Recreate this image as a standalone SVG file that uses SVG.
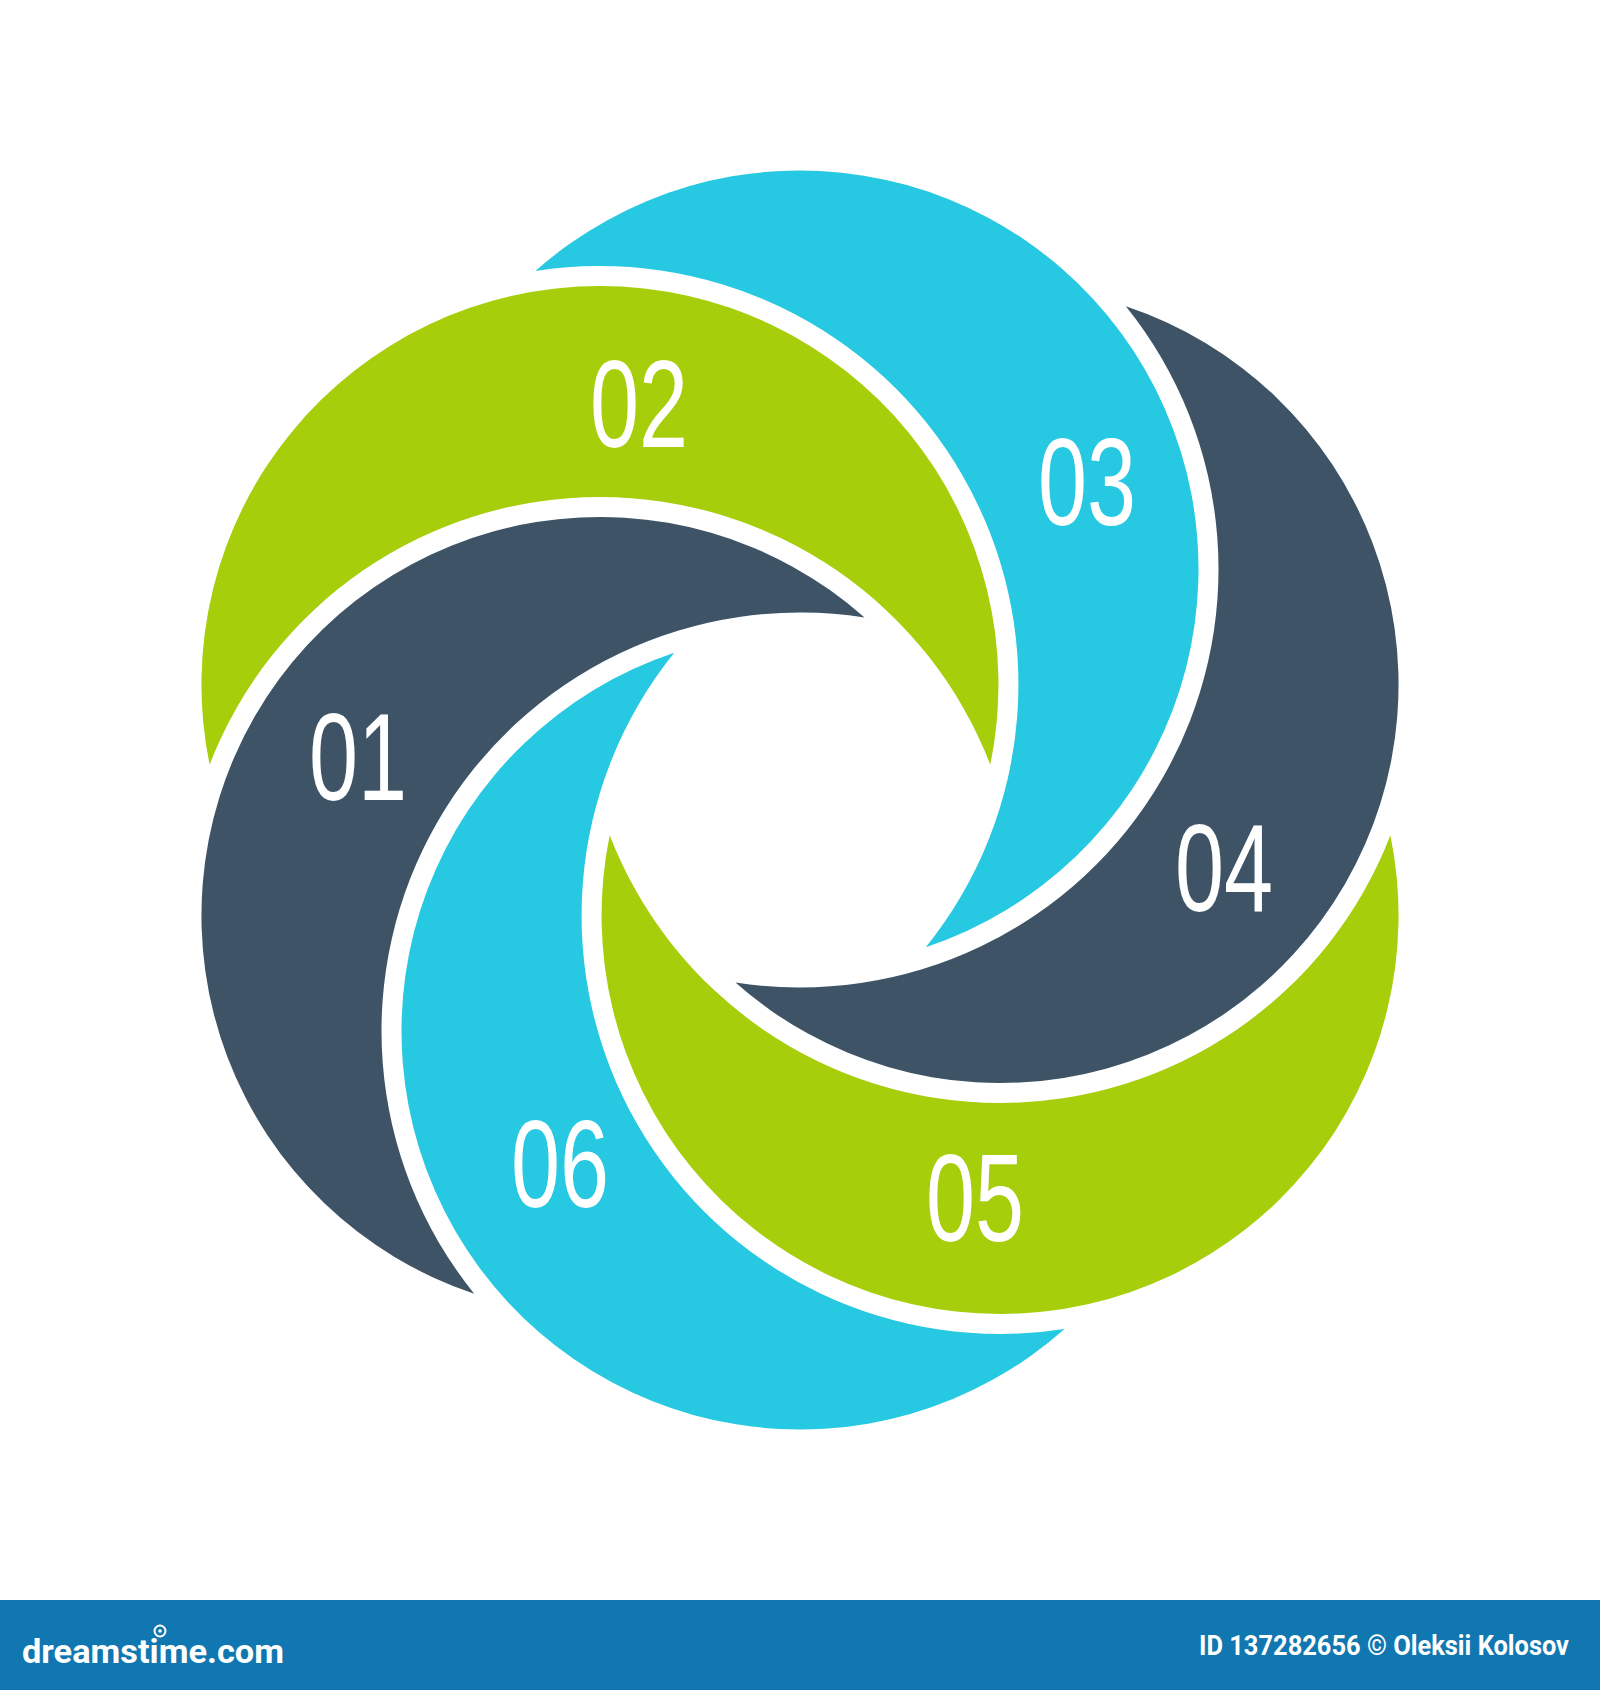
<svg xmlns="http://www.w3.org/2000/svg" width="1600" height="1690" viewBox="0 0 1600 1690">
<style>
.green{fill:#a6ce0b}
.cyan{fill:#26c9e1}
.dark{fill:#3e5466}
.num{font-family:"Liberation Sans Narrow","Liberation Sans",Arial,sans-serif;font-size:124px;fill:#ffffff;text-anchor:middle}
.foot{fill:#ffffff;font-family:Roboto,"Liberation Sans",Arial,sans-serif;font-weight:bold}
</style>
<defs>
<path id="crescent" d="M -590.41 -35.37 A 398.5 398.5 0 1 1 190.31 -35.37 A 418.5 418.5 0 0 0 -590.41 -35.37 Z"/>
</defs>
<rect width="1600" height="1690" fill="#ffffff"/>
<g id="seg01">
<use href="#crescent" class="dark" transform="translate(800 800) rotate(-60)"/>
<text class="num" x="358" y="800" textLength="98" lengthAdjust="spacingAndGlyphs">01</text>
</g>
<g id="seg02">
<use href="#crescent" class="green" transform="translate(800 800)"/>
<text class="num" x="639" y="447" textLength="98" lengthAdjust="spacingAndGlyphs">02</text>
</g>
<g id="seg03">
<use href="#crescent" class="cyan" transform="translate(800 800) rotate(60)"/>
<text class="num" x="1087" y="525" textLength="98" lengthAdjust="spacingAndGlyphs">03</text>
</g>
<g id="seg04">
<use href="#crescent" class="dark" transform="translate(800 800) rotate(120)"/>
<text class="num" x="1224" y="911" textLength="98" lengthAdjust="spacingAndGlyphs">04</text>
</g>
<g id="seg05">
<use href="#crescent" class="green" transform="translate(800 800) rotate(180)"/>
<text class="num" x="975" y="1241" textLength="98" lengthAdjust="spacingAndGlyphs">05</text>
</g>
<g id="seg06">
<use href="#crescent" class="cyan" transform="translate(800 800) rotate(240)"/>
<text class="num" x="560" y="1207" textLength="98" lengthAdjust="spacingAndGlyphs">06</text>
</g>
<g id="connectors"></g>
<g id="footer">
<rect x="0" y="1600" width="1600" height="90" fill="#1177b0"/>
<text class="foot" x="22" y="1663" font-size="34" textLength="262" lengthAdjust="spacingAndGlyphs">dreamstime.com</text>
<circle cx="160" cy="1631" r="5.5" fill="none" stroke="#ffffff" stroke-width="2"/>
<circle cx="160" cy="1631" r="1.8" fill="#ffffff"/>
<text class="foot" x="1199" y="1655" font-size="27" textLength="370" lengthAdjust="spacingAndGlyphs">ID 137282656 © Oleksii Kolosov</text>
</g>
</svg>
